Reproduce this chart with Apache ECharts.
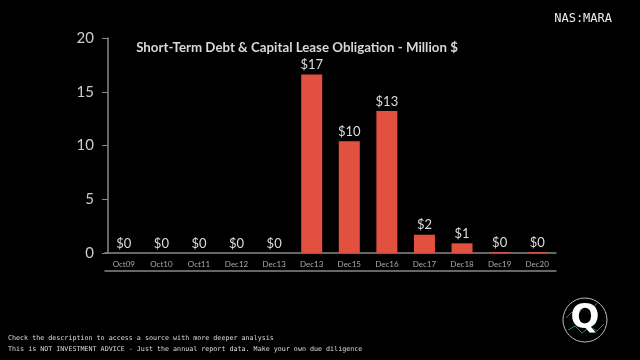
<!DOCTYPE html>
<html><head><meta charset="utf-8">
<script src="https://cdn.jsdelivr.net/npm/echarts@6/dist/echarts.min.js"></script>
<style>html,body{margin:0;padding:0;background:#000}#c{width:640px;height:360px}</style>
</head><body><div id="c"></div>
<script>
const categories = ['Oct09','Oct10','Oct11','Dec12','Dec13','Dec13','Dec15','Dec16','Dec17','Dec18','Dec19','Dec20'];
const values = [0, 0, 0, 0, 0, 16.6, 10.4, 13.2, 1.7, 0.9, 0.08, 0.08];
const yTicks = [0, 5, 10, 15, 20];
const titleText = 'Short-Term Debt & Capital Lease Obligation - Million $';
const ticker = 'NAS:MARA';
const footer1 = 'Check the description to access a source with more deeper analysis';
const footer2 = 'This is NOT INVESTMENT ADVICE - Just the annual report data. Make your own due diligence';

const chart = echarts.init(document.getElementById('c'));
chart.setOption({
  backgroundColor: '#000',
  animation: false,
  title: {
    text: titleText, left: 292, top: 36, textAlign: 'center',
    textStyle: {color: '#d8d8d8', fontFamily: 'Lato', fontSize: 13.3, fontWeight: 'bold'}
  },
  grid: {left: 105, right: 84, top: 38, bottom: 107, containLabel: false},
  xAxis: [{
    type: 'category', data: categories,
    axisLine: {lineStyle: {color: '#888', width: 1.5}},
    axisTick: {show: false},
    axisLabel: {color: '#aaa', fontSize: 8, fontFamily: 'Lato', margin: 7, interval: 0}
  }, {
    type: 'category', data: categories, position: 'bottom', offset: 18,
    axisLine: {lineStyle: {color: '#888', width: 1.5}},
    axisTick: {show: false}, axisLabel: {show: false}
  }],
  yAxis: {
    type: 'value', min: yTicks[0], max: yTicks[yTicks.length-1], interval: 5, offset: -3,
    splitLine: {show: false},
    axisLine: {show: true, lineStyle: {color: '#888', width: 1.5}},
    axisTick: {show: true, length: 6, lineStyle: {color: '#888'}},
    axisLabel: {color: '#ccc', fontSize: 15, fontFamily: 'Lato', margin: 14}
  },
  series: [{
    type: 'bar', data: values, barWidth: 21, xAxisIndex: 0,
    itemStyle: {color: '#e2503f'},
    label: {show: true, position: 'top', distance: 3, color: '#ddd', fontFamily: 'Lato', fontSize: 13,
      formatter: p => '$' + Math.round(p.value)}
  }],
  graphic: [
    {type: 'text', right: 28, top: 13, style: {text: ticker, fill: '#eee', font: '12px "DejaVu Sans Mono"'}},
    {type: 'text', left: 8, top: 335, style: {text: footer1, fill: '#ddd', font: '6.7px "DejaVu Sans Mono"'}},
    {type: 'text', left: 8, top: 346, style: {text: footer2, fill: '#ddd', font: '6.7px "DejaVu Sans Mono"'}},
    {type: 'circle', shape: {cx: 585, cy: 320, r: 22}, style: {fill: '#000', stroke: '#bbb', lineWidth: 1}},
    {type: 'polyline', shape: {points: [[566,318],[572,312],[578,314],[584,306],[592,309],[598,302]]}, style: {stroke: '#2a8a3a', fill: null, lineWidth: 1}},
    {type: 'polyline', shape: {points: [[568,330],[575,326],[582,333],[590,327],[597,331],[604,324]]}, style: {stroke: '#2a8a3a', fill: null, lineWidth: 1}},
    {type: 'text', x: 585, y: 319, style: {text: 'Q', fill: '#fff', font: 'bold 34px "DejaVu Sans"', align: 'center', verticalAlign: 'middle'}}
  ]
});
</script></body></html>
